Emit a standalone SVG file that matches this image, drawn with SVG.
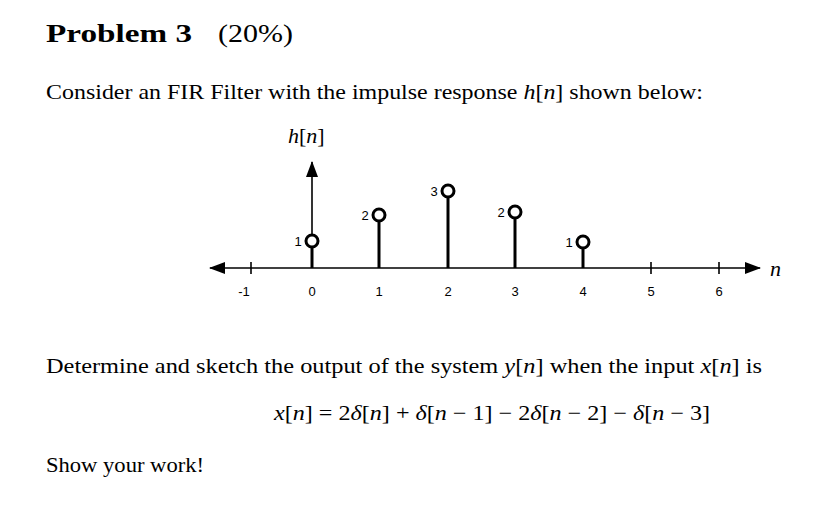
<svg xmlns="http://www.w3.org/2000/svg" width="816" height="506" viewBox="0 0 816 506">
<style>
.t{font-family:"Liberation Serif","Times New Roman",serif;font-size:21px;fill:#000}
.i{font-style:italic}
.s{font-family:"Liberation Sans",Arial,sans-serif;font-size:13px;fill:#000}
.st{stroke:#000;stroke-width:3;fill:none}
.c{stroke:#000;stroke-width:3;fill:#fff}
.ax{stroke:#000;stroke-width:1.6;fill:none}
</style>
<defs><marker id="b" markerWidth="16" markerHeight="12" refX="15" refY="6" orient="auto" markerUnits="userSpaceOnUse"><path d="M0,0L16,6L0,12z" fill="#000"/></marker></defs>
<text class="t" x="46" y="42" style="font-size:26px;font-weight:bold" textLength="146" lengthAdjust="spacingAndGlyphs">Problem 3</text>
<text class="t" x="218" y="42" style="font-size:25px" textLength="75" lengthAdjust="spacingAndGlyphs">(20%)</text>
<text class="t" x="46" y="99" textLength="657" lengthAdjust="spacingAndGlyphs">Consider an FIR Filter with the impulse response <tspan class="i">h</tspan>[<tspan class="i">n</tspan>] shown below:</text>
<g id="plot">
<g id="axes">
<line class="ax" x1="312" y1="268" x2="312" y2="162" marker-end="url(#b)"/>
<line class="ax" x1="280" y1="268" x2="210" y2="268" marker-end="url(#b)"/>
<line class="ax" x1="280" y1="268" x2="760" y2="268" marker-end="url(#b)"/>
<g class="ax"><line x1="251" y1="262" x2="251" y2="274"/><line x1="651" y1="262" x2="651" y2="274"/><line x1="719" y1="262" x2="719" y2="274"/></g>
</g>
<text class="t i" x="288" y="143" style="font-size:22px"><tspan>h</tspan><tspan style="font-style:normal">[</tspan>n<tspan style="font-style:normal">]</tspan></text>
<text class="t i" x="770" y="276" style="font-size:22px">n</text>
<g class="s" text-anchor="middle">
<text x="244" y="296">-1</text><text x="312" y="296">0</text><text x="379" y="296">1</text><text x="448" y="296">2</text><text x="515" y="296">3</text><text x="583" y="296">4</text><text x="651" y="296">5</text><text x="719" y="296">6</text>
</g>
<g id="n0"><line class="st" x1="312" y1="268" x2="312" y2="247"/><circle class="c" cx="312" cy="241" r="6"/><text class="s" x="298" y="246" text-anchor="middle">1</text></g>
<g id="n1"><line class="st" x1="379" y1="268" x2="379" y2="221"/><circle class="c" cx="379" cy="215" r="6"/><text class="s" x="365" y="220" text-anchor="middle">2</text></g>
<g id="n2"><line class="st" x1="448" y1="268" x2="448" y2="197"/><circle class="c" cx="448" cy="191" r="6"/><text class="s" x="434" y="196" text-anchor="middle">3</text></g>
<g id="n3"><line class="st" x1="515" y1="268" x2="515" y2="218"/><circle class="c" cx="515" cy="212" r="6"/><text class="s" x="501" y="217" text-anchor="middle">2</text></g>
<g id="n4"><line class="st" x1="583" y1="268" x2="583" y2="248"/><circle class="c" cx="583" cy="242" r="6"/><text class="s" x="569" y="247" text-anchor="middle">1</text></g>
</g>
<text class="t" x="46" y="373" textLength="716" lengthAdjust="spacingAndGlyphs">Determine and sketch the output of the system <tspan class="i">y</tspan>[<tspan class="i">n</tspan>] when the input <tspan class="i">x</tspan>[<tspan class="i">n</tspan>] is</text>
<text class="t" x="274" y="420" textLength="436" lengthAdjust="spacingAndGlyphs"><tspan class="i">x</tspan>[<tspan class="i">n</tspan>] = 2<tspan class="i">δ</tspan>[<tspan class="i">n</tspan>] + <tspan class="i">δ</tspan>[<tspan class="i">n</tspan> − 1] − 2<tspan class="i">δ</tspan>[<tspan class="i">n</tspan> − 2] − <tspan class="i">δ</tspan>[<tspan class="i">n</tspan> − 3]</text>
<text class="t" x="46" y="472" textLength="158" lengthAdjust="spacingAndGlyphs">Show your work!</text>
</svg>
